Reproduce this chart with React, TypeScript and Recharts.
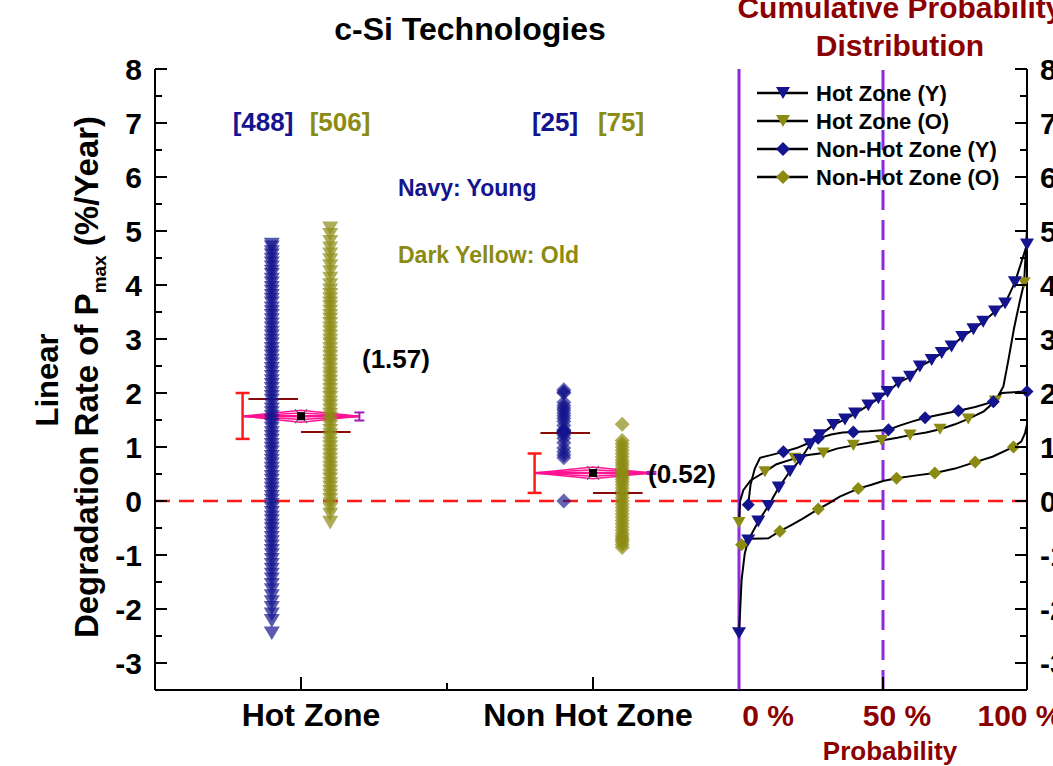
import React from 'react';
import {
  ComposedChart,
  Scatter,
  Line,
  XAxis,
  YAxis,
  ReferenceLine,
  ErrorBar,
  Legend,
} from 'recharts';

const W = 1053;
const H = 766;
const FONT = '"Liberation Sans", Arial, Helvetica, sans-serif';

const NAVY = '#14148e';
const OLIVE = '#8b8b14';
const RED = '#ff1a1a';
const DARK_RED = '#8b0a0a';
const TITLE_RED = '#8b0000';
const PURPLE = '#8a2be2';
const PINK = '#ff1493';
const AXIS = { stroke: '#000', strokeWidth: 2 };

// ---- left panel: degradation rate (%/year) per module group ----
const categories = ['Hot Zone', 'Non Hot Zone'];
const categoryTicks = [1, 1.5, 2];
const yTicks = [
  -3.5, -3, -2.5, -2, -1.5, -1, -0.5, 0, 0.5, 1, 1.5, 2, 2.5, 3, 3.5, 4, 4.5, 5, 5.5, 6, 6.5, 7, 7.5, 8,
];
const youngCounts = ['[488]', '[25]'];
const oldCounts = ['[506]', '[75]'];
const groupMeans = [1.57, 0.52];
const meanLabels = ['(1.57)', '(0.52)'];

const hotYoung = [
  4.75, 4.7, 4.61, 4.55, 4.47, 4.4, 4.33, 4.25, 4.19, 4.1, 4.03, 3.95, 3.88, 3.8, 3.73, 3.66, 3.57,
  3.5, 3.43, 3.35, 3.27, 3.2, 3.12, 3.05, 2.97, 2.9, 2.82, 2.75, 2.68, 2.6, 2.53, 2.45, 2.38, 2.3,
  2.22, 2.15, 2.08, 2.0, 1.93, 1.86, 1.78, 1.7, 1.63, 1.56, 1.48, 1.41, 1.34, 1.26, 1.19, 1.12,
  1.04, 0.97, 0.9, 0.82, 0.75, 0.68, 0.6, 0.53, 0.45, 0.38, 0.3, 0.23, 0.16, 0.08, 0.01, -0.07,
  -0.14, -0.22, -0.3, -0.37, -0.45, -0.52, -0.6, -0.68, -0.76, -0.84, -0.92, -1.0, -1.09, -1.18,
  -1.27, -1.36, -1.45, -1.55, -1.65, -1.76, -1.87, -1.98, -2.1, -2.22, -2.45,
];
const hotOld = [
  5.05, 4.93, 4.8, 4.68, 4.57, 4.46, 4.35, 4.24, 4.12, 4.0, 3.9, 3.82, 3.74, 3.66, 3.59, 3.51,
  3.43, 3.36, 3.28, 3.2, 3.13, 3.05, 2.97, 2.9, 2.82, 2.74, 2.67, 2.59, 2.52, 2.44, 2.36, 2.29,
  2.21, 2.14, 2.06, 1.98, 1.91, 1.83, 1.76, 1.68, 1.6, 1.53, 1.45, 1.38, 1.3, 1.22, 1.15, 1.07,
  1.0, 0.92, 0.85, 0.77, 0.7, 0.62, 0.55, 0.47, 0.4, 0.32, 0.25, 0.17, 0.1, 0.02, -0.06, -0.15,
  -0.25, -0.4,
];
const nonHotYoung = [
  2.06, 2.02, 2.0, 1.83, 1.77, 1.72, 1.68, 1.63, 1.58, 1.53, 1.47, 1.4, 1.32, 1.3, 1.29, 1.28,
  1.26, 1.22, 1.16, 1.08, 0.98, 0.91, 0.85, 0.8, 0.0,
];
const nonHotOld = [
  1.42, 1.12, 1.06, 1.0, 0.94, 0.88, 0.82, 0.76, 0.71, 0.66, 0.61, 0.56, 0.52, 0.48, 0.44, 0.4,
  0.35, 0.3, 0.24, 0.18, 0.12, 0.06, 0.0, -0.06, -0.12, -0.18, -0.24, -0.3, -0.36, -0.42, -0.48,
  -0.54, -0.6, -0.65, -0.69, -0.72, -0.76, -0.81, -0.86,
];

// spread bars beside each group [low, high], and dark red marks per sub-group
const spreadBars = [
  [1.15, 2.0],
  [0.15, 0.88],
];
const meanErrors = [
  [1.49, 1.64],
  [0.5, 0.54],
];
const youngMarks = [1.89, 1.26];
const oldMarks = [1.28, 0.15];
const pinkBulge = [0.11, 0.06, 0, -0.06, -0.11];

// ---- right panel: cumulative probability [probability %, rate, marker] ----
const probTicks = [0, 50, 100];
const probLabels = ['0 %', '50 %', '100 %'];

const hotYoungCdf = [
  [0, -2.45, 1], [0.6, -1.8, 0], [0.9, -1.46, 0], [2, -0.97, 0], [3.2, -0.73, 1], [6.7, -0.38, 1],
  [10.2, -0.09, 1], [13.8, 0.25, 1], [17.7, 0.55, 1], [21.2, 0.76, 1], [24.7, 1.05, 1],
  [28.1, 1.22, 1], [32.8, 1.41, 1], [36.8, 1.51, 1], [40.3, 1.62, 1], [44.9, 1.77, 1],
  [48.4, 1.9, 1], [51.6, 2.02, 1], [55.3, 2.19, 1], [59.4, 2.3, 1], [62.8, 2.49, 1],
  [66.9, 2.61, 1], [70.4, 2.74, 1], [73.8, 2.86, 1], [77.5, 3.04, 1], [81.4, 3.18, 1],
  [84.8, 3.32, 1], [88.9, 3.51, 1], [92.4, 3.66, 1], [95.8, 4.05, 1], [100, 4.75, 1],
];
const hotOldCdf = [
  [0, -0.4, 1], [0.4, 0.0, 0], [1.5, 0.2, 0], [4, 0.38, 0], [9, 0.54, 1], [13, 0.68, 0],
  [19.4, 0.79, 1], [24, 0.85, 0], [29.3, 0.89, 1], [34, 0.97, 0], [39.7, 1.03, 1], [45, 1.08, 0],
  [49.5, 1.12, 1], [55, 1.17, 0], [59.4, 1.22, 1], [65, 1.27, 0], [69.8, 1.33, 1], [75, 1.42, 0],
  [79.6, 1.52, 1], [85, 1.66, 0], [89, 1.85, 1], [91.8, 2.12, 0], [93.5, 2.6, 0], [95.5, 3.2, 0],
  [97.5, 3.7, 0], [99, 4.04, 1], [100, 5.05, 0],
];
const nonHotYoungCdf = [
  [3.2, -0.07, 1], [4, 0.3, 0], [5.5, 0.6, 0], [7.3, 0.8, 0], [11, 0.85, 0], [15.4, 0.91, 1],
  [20, 0.98, 0], [24, 1.07, 0], [27.5, 1.16, 1], [32, 1.23, 0], [36, 1.27, 0], [39.7, 1.28, 1],
  [45, 1.29, 0], [51.9, 1.32, 1], [56, 1.4, 0], [60, 1.47, 0], [64.6, 1.54, 1], [70, 1.6, 0],
  [76.2, 1.67, 1], [82, 1.74, 0], [88.3, 1.84, 1], [91.2, 2.0, 0], [100, 2.03, 1],
];
const nonHotOldCdf = [
  [0.9, -0.81, 1], [3.2, -0.7, 0], [10.2, -0.69, 0], [14.2, -0.56, 1], [18, -0.45, 0],
  [22, -0.33, 0], [27.5, -0.15, 1], [31, -0.05, 0], [35, 0.08, 0], [41.4, 0.23, 1], [46, 0.3, 0],
  [50, 0.37, 0], [54.7, 0.42, 1], [61, 0.47, 0], [68, 0.52, 1], [75, 0.6, 0], [82, 0.72, 1],
  [88, 0.82, 0], [95.3, 1.0, 1], [98, 1.1, 0], [99.3, 1.25, 0], [100, 1.42, 0],
];

// ---------- marker shapes ----------
function triDown(color: string, size: number, opacity = 1) {
  return (props: any) => {
    const { cx, cy } = props;
    if (cx == null || cy == null) return <g />;
    const h = size * 0.85;
    return (
      <path
        d={`M${cx - size / 2},${cy - h / 2}L${cx + size / 2},${cy - h / 2}L${cx},${cy + h / 2}Z`}
        fill={color}
        fillOpacity={opacity}
      />
    );
  };
}

function diamond(color: string, size: number, opacity = 1) {
  return (props: any) => {
    const { cx, cy } = props;
    if (cx == null || cy == null) return <g />;
    const r = size / 2;
    return (
      <path
        d={`M${cx},${cy - r}L${cx + r},${cy}L${cx},${cy + r}L${cx - r},${cy}Z`}
        fill={color}
        fillOpacity={opacity}
      />
    );
  };
}

const meanMarker = (props: any) => {
  const { cx, cy } = props;
  return (
    <g>
      <path d={`M${cx - 6},${cy - 7}L${cx + 6},${cy + 7}M${cx + 6},${cy - 7}L${cx - 6},${cy + 7}`} stroke="#666" strokeWidth={1.2} />
      <rect x={cx - 4} y={cy - 4} width={8} height={8} fill="#000" />
    </g>
  );
};

const emptyShape = () => <g />;

const cdfDot = (shape: (p: any) => React.ReactElement) => (props: any) =>
  props.payload && props.payload.m ? shape(props) : <g />;

// ---------- axis ticks ----------
const leftTick = (props: any) => {
  const { x, y, payload } = props;
  const v = payload.value;
  const major = Number.isInteger(v);
  if (v === -3.5) return <g />;
  return (
    <g>
      <line x1={x} x2={x + (major ? 12 : 7)} y1={y} y2={y} stroke="#000" strokeWidth={2} />
      {major && (
        <text x={x - 13} y={y} dy="0.36em" textAnchor="end" fontSize={30} fontWeight="bold" fill="#000" fontFamily={FONT}>
          {v}
        </text>
      )}
    </g>
  );
};

const rightTick = (props: any) => {
  const { x, y, payload } = props;
  const v = payload.value;
  const major = Number.isInteger(v);
  if (v === -3.5) return <g />;
  return (
    <g>
      <line x1={x} x2={x - (major ? 12 : 7)} y1={y} y2={y} stroke="#000" strokeWidth={2} />
      {major && (
        <text x={x + 13} y={y} dy="0.36em" textAnchor="start" fontSize={30} fontWeight="bold" fill="#000" fontFamily={FONT}>
          {v}
        </text>
      )}
    </g>
  );
};

const categoryShift = [10, -5];
const categoryTick = (props: any) => {
  const { x, y, payload } = props;
  const v = payload.value;
  const idx = categoryTicks.filter((t) => Number.isInteger(t)).indexOf(v);
  const major = idx >= 0;
  return (
    <g>
      <line x1={x} x2={x} y1={y} y2={y - (major ? 13 : 7)} stroke="#000" strokeWidth={2} />
      {major && (
        <text x={x + categoryShift[idx]} y={y + 36} textAnchor="middle" fontSize={32} fontWeight="bold" fill="#000" fontFamily={FONT}>
          {categories[idx]}
        </text>
      )}
    </g>
  );
};

const topTick = (props: any) => {
  const { x, y, payload } = props;
  const major = Number.isInteger(payload.value);
  return <line x1={x} x2={x} y1={y} y2={y + (major ? 13 : 7)} stroke="#000" strokeWidth={2} />;
};

const probShift = [29, 14, -7];
const probTick = (props: any) => {
  const { x, y, payload, index } = props;
  const v = payload.value;
  return (
    <g>
      {v === 50 && <line x1={x} x2={x} y1={y} y2={y - 13} stroke="#000" strokeWidth={2} />}
      <text x={x + probShift[index]} y={y + 36} textAnchor="middle" fontSize={30} fontWeight="bold" fill={TITLE_RED} fontFamily={FONT}>
        {probLabels[index]}
      </text>
    </g>
  );
};

// ---------- legend ----------
const legendItems = [
  { name: 'Hot Zone (Y)', shape: triDown(NAVY, 14) },
  { name: 'Hot Zone (O)', shape: triDown(OLIVE, 14) },
  { name: 'Non-Hot Zone (Y)', shape: diamond(NAVY, 14) },
  { name: 'Non-Hot Zone (O)', shape: diamond(OLIVE, 14) },
];

const renderLegend = () => (
  <svg width={270} height={110} style={{ overflow: 'visible' }}>
    {legendItems.map((item, i) => {
      const cy = 13 + i * 28;
      return (
        <g key={item.name}>
          <line x1={2} x2={53} y1={cy} y2={cy} stroke="#000" strokeWidth={2.5} />
          {item.shape({ cx: 28, cy })}
          <text x={61} y={cy} dy="0.36em" fontSize={22} fontWeight="bold" fill="#000" fontFamily={FONT}>
            {item.name}
          </text>
        </g>
      );
    })}
  </svg>
);

// ---------- data tables for recharts ----------
const column = (vals: number[], x: number) => vals.map((y) => ({ x, y }));
const cdf = (rows: number[][]) => rows.map(([x, y, m]) => ({ x, y, m }));

const groupCenters = [1, 2];

export default function App() {
  const plotTop = 69;
  const plotBottom = 690;
  const splitX = 739;
  const rightEdge = 1027;
  const xAxisH = 40;
  const yAxisW = 60;

  return (
    <div style={{ position: 'absolute', left: 0, top: 0, width: W, height: H, background: '#fff', fontFamily: FONT, overflow: 'hidden' }}>
      {/* left panel */}
      <div style={{ position: 'absolute', left: 0, top: 0 }}>
        <ComposedChart
          width={W}
          height={H}
          margin={{ top: plotTop, right: W - splitX, bottom: H - plotBottom - xAxisH, left: 155 - yAxisW }}
        >
          <XAxis
            type="number"
            dataKey="x"
            domain={[0.5, 2.5]}
            ticks={categoryTicks}
            interval={0}
            height={xAxisH}
            tickSize={0}
            tickMargin={0}
            tickLine={false}
            axisLine={AXIS}
            tick={categoryTick}
          />
          <XAxis
            xAxisId="top"
            orientation="top"
            type="number"
            dataKey="x"
            domain={[0.5, 2.5]}
            ticks={categoryTicks}
            interval={0}
            height={0}
            tickSize={0}
            tickMargin={0}
            tickLine={false}
            axisLine={AXIS}
            tick={topTick}
          />
          <YAxis
            type="number"
            dataKey="y"
            domain={[-3.5, 8]}
            ticks={yTicks}
            interval={0}
            width={yAxisW}
            tickSize={0}
            tickMargin={0}
            tickLine={false}
            axisLine={AXIS}
            tick={leftTick}
          />
          <ReferenceLine y={0} stroke={RED} strokeWidth={2.5} strokeDasharray="15 9" />

          <Scatter data={column(hotYoung, 0.9)} shape={triDown(NAVY, 16, 0.7)} isAnimationActive={false} />
          <Scatter data={column(hotOld, 1.1)} shape={triDown(OLIVE, 16, 0.7)} isAnimationActive={false} />
          <Scatter data={column(nonHotYoung, 1.9)} shape={diamond(NAVY, 15, 0.65)} isAnimationActive={false} />
          <Scatter data={column(nonHotOld, 2.1)} shape={diamond(OLIVE, 15, 0.7)} isAnimationActive={false} />

          {groupCenters.map((c, i) => (
            <Line
              key={`ym-${i}`}
              data={[{ x: c - 0.18, y: youngMarks[i] }, { x: c - 0.01, y: youngMarks[i] }]}
              dataKey="y"
              stroke={DARK_RED}
              strokeWidth={2}
              dot={false}
              isAnimationActive={false}
            />
          ))}
          {groupCenters.map((c, i) => (
            <Line
              key={`om-${i}`}
              data={[{ x: c, y: oldMarks[i] }, { x: c + 0.17, y: oldMarks[i] }]}
              dataKey="y"
              stroke={DARK_RED}
              strokeWidth={2}
              dot={false}
              isAnimationActive={false}
            />
          ))}

          {groupCenters.map((c, i) =>
            pinkBulge.map((b, j) => (
              <Line
                key={`pk-${i}-${j}`}
                data={[
                  { x: c - 0.2, y: groupMeans[i] },
                  { x: c, y: groupMeans[i] + b },
                  { x: c + 0.2, y: groupMeans[i] },
                ]}
                dataKey="y"
                stroke={PINK}
                strokeWidth={b === 0 ? 2.5 : 1.5}
                dot={false}
                isAnimationActive={false}
              />
            )),
          )}

          <Scatter
            data={groupCenters.map((c, i) => ({
              x: c - 0.2,
              y: groupMeans[i],
              err: [groupMeans[i] - spreadBars[i][0], spreadBars[i][1] - groupMeans[i]],
            }))}
            shape={emptyShape}
            isAnimationActive={false}
          >
            <ErrorBar dataKey="err" direction="y" width={7} stroke={RED} strokeWidth={2.5} />
          </Scatter>
          <Scatter
            data={groupCenters.map((c, i) => ({
              x: c + 0.2,
              y: groupMeans[i],
              err: [groupMeans[i] - meanErrors[i][0], meanErrors[i][1] - groupMeans[i]],
            }))}
            shape={emptyShape}
            isAnimationActive={false}
          >
            <ErrorBar dataKey="err" direction="y" width={5} stroke="#a01cb0" strokeWidth={2} />
          </Scatter>
          <Scatter
            data={groupCenters.map((c, i) => ({ x: c, y: groupMeans[i] }))}
            shape={meanMarker}
            isAnimationActive={false}
          />
        </ComposedChart>
      </div>

      {/* right panel: cumulative probability */}
      <div style={{ position: 'absolute', left: 0, top: 0 }}>
        <ComposedChart
          width={W}
          height={H}
          margin={{ top: plotTop, right: 0, bottom: H - plotBottom - xAxisH, left: splitX }}
        >
          <XAxis
            type="number"
            dataKey="x"
            domain={[0, 100]}
            ticks={probTicks}
            interval={0}
            height={xAxisH}
            tickSize={0}
            tickMargin={0}
            tickLine={false}
            axisLine={AXIS}
            tick={probTick}
          />
          <XAxis
            xAxisId="top"
            orientation="top"
            type="number"
            dataKey="x"
            domain={[0, 100]}
            height={0}
            tick={false}
            tickLine={false}
            axisLine={AXIS}
          />
          <YAxis
            orientation="right"
            type="number"
            dataKey="y"
            domain={[-3.5, 8]}
            ticks={yTicks}
            interval={0}
            width={W - rightEdge}
            tickSize={0}
            tickMargin={0}
            tickLine={false}
            axisLine={AXIS}
            tick={rightTick}
          />
          <ReferenceLine y={0} stroke={RED} strokeWidth={2.5} strokeDasharray="15 9" />
          <ReferenceLine x={50} stroke={PURPLE} strokeWidth={3} strokeDasharray="20 10" />
          <ReferenceLine x={0} stroke={PURPLE} strokeWidth={3} />

          <Line data={cdf(nonHotOldCdf)} dataKey="y" stroke="#000" strokeWidth={2} dot={cdfDot(diamond(OLIVE, 13))} isAnimationActive={false} />
          <Line data={cdf(hotOldCdf)} dataKey="y" stroke="#000" strokeWidth={2} dot={cdfDot(triDown(OLIVE, 13))} isAnimationActive={false} />
          <Line data={cdf(nonHotYoungCdf)} dataKey="y" stroke="#000" strokeWidth={2} dot={cdfDot(diamond(NAVY, 13))} isAnimationActive={false} />
          <Line data={cdf(hotYoungCdf)} dataKey="y" stroke="#000" strokeWidth={2} dot={cdfDot(triDown(NAVY, 14))} isAnimationActive={false} />

          <Legend
            layout="vertical"
            align="center"
            verticalAlign="middle"
            wrapperStyle={{ left: 755, top: 80, width: 270, height: 110 }}
            content={renderLegend}
          />
        </ComposedChart>
      </div>

      {/* titles and annotations */}
      <svg
        width={W}
        height={H}
        style={{ position: 'absolute', left: 0, top: 0, pointerEvents: 'none' }}
        fontFamily={FONT}
        fontWeight="bold"
      >
        <text x={470} y={40} textAnchor="middle" fontSize={32}>c-Si Technologies</text>
        <text x={900} y={18} textAnchor="middle" fontSize={30} fill={TITLE_RED}>Cumulative Probability</text>
        <text x={900} y={56} textAnchor="middle" fontSize={30} fill={TITLE_RED}>Distribution</text>
        <text x={890} y={760} textAnchor="middle" fontSize={26} fill={TITLE_RED}>Probability</text>

        <text transform="translate(58,380) rotate(-90)" textAnchor="middle" fontSize={31}>Linear</text>
        <text transform="translate(98,377) rotate(-90)" textAnchor="middle" fontSize={33}>
          <tspan>Degradation Rate of P</tspan>
          <tspan fontSize={19} dy={8}>max</tspan>
          <tspan dy={-8}> (%/Year)</tspan>
        </text>

        <text x={263} y={131} textAnchor="middle" fontSize={26} fill={NAVY}>{youngCounts[0]}</text>
        <text x={340} y={131} textAnchor="middle" fontSize={26} fill={OLIVE}>{oldCounts[0]}</text>
        <text x={555} y={131} textAnchor="middle" fontSize={26} fill={NAVY}>{youngCounts[1]}</text>
        <text x={621} y={131} textAnchor="middle" fontSize={26} fill={OLIVE}>{oldCounts[1]}</text>

        <text x={398} y={196} fontSize={23} fill={NAVY}>Navy: Young</text>
        <text x={398} y={263} fontSize={23} fill={OLIVE}>Dark Yellow: Old</text>

        <text x={362} y={368} fontSize={26} fill="#000">{meanLabels[0]}</text>
        <text x={648} y={483} fontSize={26} fill="#000">{meanLabels[1]}</text>
      </svg>
    </div>
  );
}
